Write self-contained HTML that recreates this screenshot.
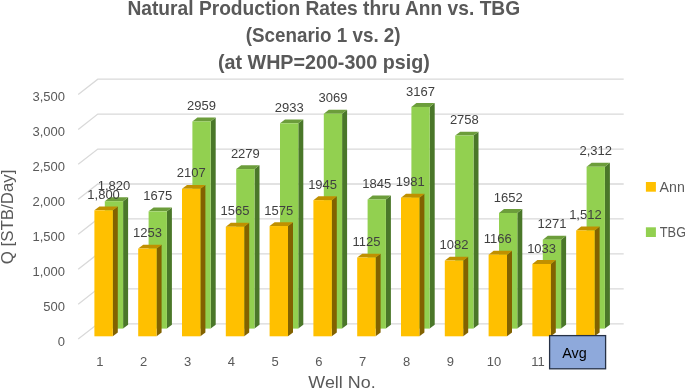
<!DOCTYPE html>
<html><head><meta charset="utf-8"><title>Natural Production Rates thru Ann vs. TBG</title>
<style>
html,body{margin:0;padding:0;background:#fff;}
body{width:685px;height:389px;overflow:hidden;}
svg{display:block;}
text{font-family:"Liberation Sans",Arial,sans-serif;}
.dl text{font-size:13px;fill:#404040;}
.ax text{font-size:13px;fill:#595959;}
.avg{font-size:14.4px;fill:#000;}
.at{font-size:16.6px;fill:#595959;}
.lg{font-size:14.6px;fill:#595959;}
.ti text{font-size:19.8px;font-weight:bold;fill:#595959;}
</style></head>
<body><svg width="685" height="389" viewBox="0 0 685 389">
<rect width="685" height="389" fill="#fff"/>
<g fill="none" stroke="#D9D9D9" stroke-width="1.3"><polyline points="78.2,339.1 97.8,323.8 623.7,323.8"/><polyline points="78.2,304.15 97.8,288.85 623.7,288.85"/><polyline points="78.2,269.2 97.8,253.9 623.7,253.9"/><polyline points="78.2,234.25 97.8,218.95 623.7,218.95"/><polyline points="78.2,199.3 97.8,184 623.7,184"/><polyline points="78.2,164.35 97.8,149.05 623.7,149.05"/><polyline points="78.2,129.4 97.8,114.1 623.7,114.1"/><polyline points="78.2,94.45 97.8,79.15 623.7,79.15"/></g>
<path fill="#4A7729" d="M123.1 201.2L128.1 197.3L128.1 324.7L123.1 328.6Z"/><path fill="#6C9D3B" d="M104.8 201.2L109.8 197.3L128.1 197.3L123.1 201.2Z"/><rect fill="#92D050" x="104.8" y="201.2" width="18.3" height="127.4"/>
<path fill="#4A7729" d="M166.9 211.35L171.9 207.45L171.9 324.7L166.9 328.6Z"/><path fill="#6C9D3B" d="M148.6 211.35L153.6 207.45L171.9 207.45L166.9 211.35Z"/><rect fill="#92D050" x="148.6" y="211.35" width="18.3" height="117.25"/>
<path fill="#4A7729" d="M210.7 121.47L215.7 117.57L215.7 324.7L210.7 328.6Z"/><path fill="#6C9D3B" d="M192.4 121.47L197.4 117.57L215.7 117.57L210.7 121.47Z"/><rect fill="#92D050" x="192.4" y="121.47" width="18.3" height="207.13"/>
<path fill="#4A7729" d="M254.5 169.07L259.5 165.17L259.5 324.7L254.5 328.6Z"/><path fill="#6C9D3B" d="M236.2 169.07L241.2 165.17L259.5 165.17L254.5 169.07Z"/><rect fill="#92D050" x="236.2" y="169.07" width="18.3" height="159.53"/>
<path fill="#4A7729" d="M298.3 123.29L303.3 119.39L303.3 324.7L298.3 328.6Z"/><path fill="#6C9D3B" d="M280 123.29L285 119.39L303.3 119.39L298.3 123.29Z"/><rect fill="#92D050" x="280" y="123.29" width="18.3" height="205.31"/>
<path fill="#4A7729" d="M342.1 113.77L347.1 109.87L347.1 324.7L342.1 328.6Z"/><path fill="#6C9D3B" d="M323.8 113.77L328.8 109.87L347.1 109.87L342.1 113.77Z"/><rect fill="#92D050" x="323.8" y="113.77" width="18.3" height="214.83"/>
<path fill="#4A7729" d="M385.9 199.45L390.9 195.55L390.9 324.7L385.9 328.6Z"/><path fill="#6C9D3B" d="M367.6 199.45L372.6 195.55L390.9 195.55L385.9 199.45Z"/><rect fill="#92D050" x="367.6" y="199.45" width="18.3" height="129.15"/>
<path fill="#4A7729" d="M429.7 106.91L434.7 103.01L434.7 324.7L429.7 328.6Z"/><path fill="#6C9D3B" d="M411.4 106.91L416.4 103.01L434.7 103.01L429.7 106.91Z"/><rect fill="#92D050" x="411.4" y="106.91" width="18.3" height="221.69"/>
<path fill="#4A7729" d="M473.5 135.54L478.5 131.64L478.5 324.7L473.5 328.6Z"/><path fill="#6C9D3B" d="M455.2 135.54L460.2 131.64L478.5 131.64L473.5 135.54Z"/><rect fill="#92D050" x="455.2" y="135.54" width="18.3" height="193.06"/>
<path fill="#4A7729" d="M517.3 212.96L522.3 209.06L522.3 324.7L517.3 328.6Z"/><path fill="#6C9D3B" d="M499 212.96L504 209.06L522.3 209.06L517.3 212.96Z"/><rect fill="#92D050" x="499" y="212.96" width="18.3" height="115.64"/>
<path fill="#4A7729" d="M561.1 239.63L566.1 235.73L566.1 324.7L561.1 328.6Z"/><path fill="#6C9D3B" d="M542.8 239.63L547.8 235.73L566.1 235.73L561.1 239.63Z"/><rect fill="#92D050" x="542.8" y="239.63" width="18.3" height="88.97"/>
<path fill="#4A7729" d="M604.9 166.76L609.9 162.86L609.9 324.7L604.9 328.6Z"/><path fill="#6C9D3B" d="M586.6 166.76L591.6 162.86L609.9 162.86L604.9 166.76Z"/><rect fill="#92D050" x="586.6" y="166.76" width="18.3" height="161.84"/>
<path fill="#826200" d="M112.8 210.3L117.8 206.4L117.8 332.4L112.8 336.3Z"/><path fill="#C09000" d="M94.4 210.3L99.4 206.4L117.8 206.4L112.8 210.3Z"/><rect fill="#FFC000" x="94.4" y="210.3" width="18.4" height="126"/>
<path fill="#826200" d="M156.6 248.59L161.6 244.69L161.6 332.4L156.6 336.3Z"/><path fill="#C09000" d="M138.2 248.59L143.2 244.69L161.6 244.69L156.6 248.59Z"/><rect fill="#FFC000" x="138.2" y="248.59" width="18.4" height="87.71"/>
<path fill="#826200" d="M200.4 188.81L205.4 184.91L205.4 332.4L200.4 336.3Z"/><path fill="#C09000" d="M182 188.81L187 184.91L205.4 184.91L200.4 188.81Z"/><rect fill="#FFC000" x="182" y="188.81" width="18.4" height="147.49"/>
<path fill="#826200" d="M244.2 226.75L249.2 222.85L249.2 332.4L244.2 336.3Z"/><path fill="#C09000" d="M225.8 226.75L230.8 222.85L249.2 222.85L244.2 226.75Z"/><rect fill="#FFC000" x="225.8" y="226.75" width="18.4" height="109.55"/>
<path fill="#826200" d="M288 226.05L293 222.15L293 332.4L288 336.3Z"/><path fill="#C09000" d="M269.6 226.05L274.6 222.15L293 222.15L288 226.05Z"/><rect fill="#FFC000" x="269.6" y="226.05" width="18.4" height="110.25"/>
<path fill="#826200" d="M331.8 200.15L336.8 196.25L336.8 332.4L331.8 336.3Z"/><path fill="#C09000" d="M313.4 200.15L318.4 196.25L336.8 196.25L331.8 200.15Z"/><rect fill="#FFC000" x="313.4" y="200.15" width="18.4" height="136.15"/>
<path fill="#826200" d="M375.6 257.55L380.6 253.65L380.6 332.4L375.6 336.3Z"/><path fill="#C09000" d="M357.2 257.55L362.2 253.65L380.6 253.65L375.6 257.55Z"/><rect fill="#FFC000" x="357.2" y="257.55" width="18.4" height="78.75"/>
<path fill="#826200" d="M419.4 197.63L424.4 193.73L424.4 332.4L419.4 336.3Z"/><path fill="#C09000" d="M401 197.63L406 193.73L424.4 193.73L419.4 197.63Z"/><rect fill="#FFC000" x="401" y="197.63" width="18.4" height="138.67"/>
<path fill="#826200" d="M463.2 260.56L468.2 256.66L468.2 332.4L463.2 336.3Z"/><path fill="#C09000" d="M444.8 260.56L449.8 256.66L468.2 256.66L463.2 260.56Z"/><rect fill="#FFC000" x="444.8" y="260.56" width="18.4" height="75.74"/>
<path fill="#826200" d="M507 254.68L512 250.78L512 332.4L507 336.3Z"/><path fill="#C09000" d="M488.6 254.68L493.6 250.78L512 250.78L507 254.68Z"/><rect fill="#FFC000" x="488.6" y="254.68" width="18.4" height="81.62"/>
<path fill="#826200" d="M550.8 263.99L555.8 260.09L555.8 332.4L550.8 336.3Z"/><path fill="#C09000" d="M532.4 263.99L537.4 260.09L555.8 260.09L550.8 263.99Z"/><rect fill="#FFC000" x="532.4" y="263.99" width="18.4" height="72.31"/>
<path fill="#826200" d="M594.6 230.46L599.6 226.56L599.6 332.4L594.6 336.3Z"/><path fill="#C09000" d="M576.2 230.46L581.2 226.56L599.6 226.56L594.6 230.46Z"/><rect fill="#FFC000" x="576.2" y="230.46" width="18.4" height="105.84"/>
<g class="dl" text-anchor="middle"><text x="113.95" y="189.8">1,820</text><text x="157.75" y="199.95">1675</text><text x="201.55" y="110.07">2959</text><text x="245.35" y="157.67">2279</text><text x="289.15" y="111.89">2933</text><text x="332.95" y="102.37">3069</text><text x="376.75" y="188.05">1845</text><text x="420.55" y="95.51">3167</text><text x="464.35" y="124.14">2758</text><text x="508.15" y="201.56">1652</text><text x="551.95" y="228.23">1271</text><text x="595.75" y="155.36">2,312</text><text x="103.6" y="198.9">1,800</text><text x="147.4" y="237.19">1253</text><text x="191.2" y="177.41">2107</text><text x="235" y="215.35">1565</text><text x="278.8" y="214.65">1575</text><text x="322.6" y="188.75">1945</text><text x="366.4" y="246.15">1125</text><text x="410.2" y="186.23">1981</text><text x="454" y="249.16">1082</text><text x="497.8" y="243.28">1166</text><text x="541.6" y="252.59">1033</text><text x="585.4" y="219.06">1,512</text></g>
<g class="ax" text-anchor="end"><text x="65" y="346.3">0</text><text x="65" y="311.27">500</text><text x="65" y="276.24">1,000</text><text x="65" y="241.21">1,500</text><text x="65" y="206.18">2,000</text><text x="65" y="171.15">2,500</text><text x="65" y="136.12">3,000</text><text x="65" y="101.09">3,500</text></g>
<g class="ax" text-anchor="middle"><text x="99.9" y="365.7">1</text><text x="143.7" y="365.7">2</text><text x="187.5" y="365.7">3</text><text x="231.3" y="365.7">4</text><text x="275.1" y="365.7">5</text><text x="318.9" y="365.7">6</text><text x="362.7" y="365.7">7</text><text x="406.5" y="365.7">8</text><text x="450.3" y="365.7">9</text><text x="494.1" y="365.7">10</text><text x="537.9" y="365.7">11</text></g>
<rect x="549.6" y="335.6" width="56" height="33.2" fill="#8EA9DB" stroke="#263146" stroke-width="1.3"/>
<text class="avg" x="574.5" y="357.8" text-anchor="middle">Avg</text>
<text class="at" x="342" y="388" text-anchor="middle" textLength="67.3" lengthAdjust="spacingAndGlyphs">Well No.</text>
<text class="at" transform="translate(13.3 216.9) rotate(-90)" text-anchor="middle" textLength="94.5" lengthAdjust="spacingAndGlyphs">Q [STB/Day]</text>
<rect x="645.9" y="182" width="10" height="9.7" fill="#FFC000"/>
<text class="lg" x="659.6" y="191.7" textLength="25.2" lengthAdjust="spacingAndGlyphs">Ann</text>
<rect x="645.9" y="227.3" width="10" height="9.7" fill="#92D050"/>
<text class="lg" x="659.8" y="236.8" textLength="26.3" lengthAdjust="spacingAndGlyphs">TBG</text>
<g class="ti" text-anchor="middle"><text x="323.8" y="15.1" textLength="392.7" lengthAdjust="spacingAndGlyphs">Natural Production Rates thru Ann vs. TBG</text><text x="323.2" y="42.1" textLength="154.8" lengthAdjust="spacingAndGlyphs">(Scenario 1 vs. 2)</text><text x="323.9" y="69.1" textLength="211.8" lengthAdjust="spacingAndGlyphs">(at WHP=200-300 psig)</text></g>
</svg></body></html>
